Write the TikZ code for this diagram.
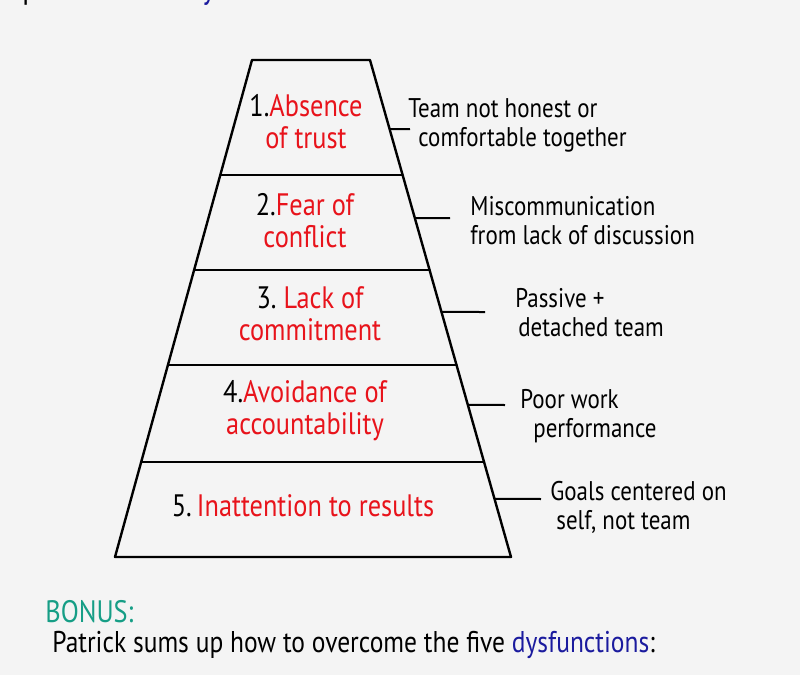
\documentclass[tikz,border=0pt]{standalone}
\usepackage{fontspec}
\setmainfont{PT Sans}[FakeStretch=0.85]
\usepackage{xcolor}
\usetikzlibrary{calc, positioning}
\definecolor{bg}{HTML}{F4F4F4}
\definecolor{dysred}{HTML}{E8131B}
\definecolor{dysblue}{HTML}{1B1B9E}
\definecolor{bonusgreen}{HTML}{169E86}

\begin{document}
\begin{tikzpicture}[x=0.5pt, y=-0.5pt,
  edge/.style={line width=1.2pt, line cap=round, line join=round},
  tick/.style={line width=1pt},
  level/.style={align=center, text=dysred, inner sep=0pt,
    font=\fontsize{15.5}{16}\selectfont},
  note/.style={align=left, anchor=west, inner sep=0pt,
    font=\fontsize{13.5}{14.5}\selectfont}]
\useasboundingbox (0,0) rectangle (800,675);
\fill[bg] (0,0) rectangle (800,675);
\clip (0,0) rectangle (800,675);

% heading, cut off by the top edge
\node[anchor=base west, inner sep=0pt, font=\fontsize{17}{18}\selectfont] (head) at (22,-2)
  {presents five \textcolor{dysblue}{dysfunctions} common to teams:};

% pyramid
\coordinate (tl) at (252,60);
\coordinate (tr) at (370,60);
\coordinate (bl) at (115,557);
\coordinate (br) at (511,557);
\draw[edge] (bl) -- (tl) -- (tr) -- (br) -- cycle;
\draw[edge] ($(tl)!0.2314!(bl)$) -- ($(tr)!0.2314!(br)$);
\draw[edge] ($(tl)!0.4225!(bl)$) -- ($(tr)!0.4225!(br)$);
\draw[edge] ($(tl)!0.6137!(bl)$) -- ($(tr)!0.6137!(br)$);
\draw[edge] ($(tl)!0.8089!(bl)$) -- ($(tr)!0.8089!(br)$);

% levels
\node[level] (lab1) at (306,122) {\textcolor{black}{1.}Absence\\of trust};
\node[level] (lab2) at (305,221) {\textcolor{black}{2.}Fear of\\conflict};
\node[level] (lab3) at (310,314) {\textcolor{black}{3.}\ Lack of\\commitment};
\node[level] (lab4) at (305,411) {\textcolor{black}{4.}Avoidance of\\accountability};
\node[level] (lab5) at (303,506) {\textcolor{black}{5.}\,Inattention to results};

% notes
\node[note] (note1) at (408,125) {Team not honest or\\\hspace{5pt}comfortable together};
\node[note] (note2) at (470,221) {Miscommunication\\from lack of discussion};
\node[note] (note3) at (515,313) {Passive +\\\hspace{1.5pt}detached team};
\node[note] (note4) at (520,416) {Poor work\\\hspace{6.5pt}performance};
\node[note] (note5) at (550,507) {Goals centered on\\\hspace{3pt}self, not team};

\coordinate (end1) at (410,129);
\coordinate (end2) at (450,218);
\coordinate (end3) at (485,312);
\coordinate (end4) at (505,405);
\coordinate (end5) at (541,499);
\draw[tick] ($(tr)!0.139!(br)$) -- (end1);
\draw[tick] ($(tr)!0.318!(br)$) -- (end2);
\draw[tick] ($(tr)!0.507!(br)$) -- (end3);
\draw[tick] ($(tr)!0.694!(br)$) -- (end4);
\draw[tick] ($(tr)!0.883!(br)$) -- (end5);

% bonus
\node[anchor=west, inner sep=0pt, text=bonusgreen, font=\fontsize{15.5}{16}\selectfont] (bonus) at (45,612) {BONUS:};
\node[anchor=west, inner sep=0pt, font=\fontsize{15}{16}\selectfont] (sumup) at (52,645)
  {Patrick sums up how to overcome the five \textcolor{dysblue}{dysfunctions}:};
\end{tikzpicture}
\end{document}
